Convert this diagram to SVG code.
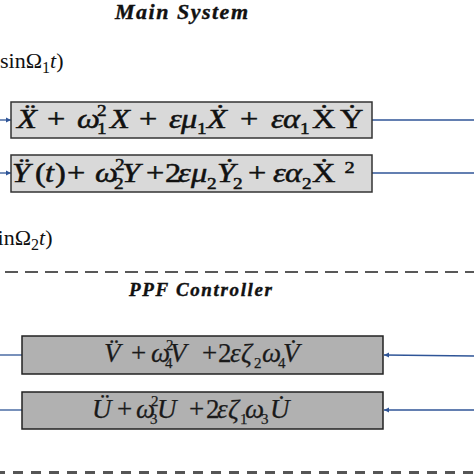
<svg xmlns="http://www.w3.org/2000/svg" width="474" height="474" viewBox="0 0 474 474">
<style>
.bg{fill:#ffffff}
.b1{fill:#d9d9d9;stroke:#333333;stroke-width:1.5}
.b2{fill:#b1b1b1;stroke:#222222;stroke-width:1.5}
.ln{stroke:#2f5597;stroke-width:1.3;fill:none}
.m{font-family:"Liberation Serif",serif;font-style:italic;font-size:27px;fill:#111111;stroke:#111111;stroke-width:0.5}
.m2{font-family:"Liberation Serif",serif;font-style:italic;font-size:27px;fill:#1a1a1a;stroke:#1a1a1a;stroke-width:0.25}
.u{font-style:normal}
.s{font-size:16px}
.s2{font-size:15px}
.t{font-family:"Liberation Serif",serif;font-size:22px;fill:#111111}
.h{font-family:"Liberation Serif",serif;font-style:italic;font-weight:bold;fill:#111111;stroke:#111111;stroke-width:0.4}
</style>
<defs>
<marker id="ah" markerWidth="6" markerHeight="6" refX="5" refY="3" orient="auto" markerUnits="userSpaceOnUse">
<path d="M0,0.5 L5,3 L0,5.5 Z" fill="#2f5597"/>
</marker>
</defs>
<rect class="bg" x="0" y="0" width="474" height="474"/>
<g id="titles">
<text class="h" x="115" y="19" font-size="22" textLength="133" lengthAdjust="spacing">Main System</text>
<text class="h" x="129" y="296" font-size="19" textLength="143" lengthAdjust="spacing">PPF Controller</text>
</g>
<g id="input1">
<text class="t" x="0" y="68">sinΩ<tspan class="s" dy="5">1</tspan><tspan font-style="italic" dy="-5">t</tspan>)</text>
</g>
<g id="input2">
<text class="t" x="-11" y="245">sinΩ<tspan class="s" dy="5">2</tspan><tspan font-style="italic" dy="-5">t</tspan>)</text>
</g>
<g id="separators">
<line x1="5" y1="272" x2="474" y2="272" stroke="#222222" stroke-width="1.6" stroke-dasharray="13 7"/>
<line x1="-5" y1="472.5" x2="474" y2="472.5" stroke="#555555" stroke-width="3" stroke-dasharray="10 8"/>
</g>
<g id="connectors">
<line class="ln" x1="0" y1="120" x2="11" y2="120" marker-end="url(#ah)"/>
<line class="ln" x1="0" y1="173" x2="11" y2="173" marker-end="url(#ah)"/>
<line class="ln" x1="372" y1="120" x2="474" y2="120"/>
<line class="ln" x1="372" y1="173" x2="474" y2="173"/>
<line class="ln" x1="0" y1="355" x2="22" y2="355"/>
<line class="ln" x1="0" y1="410" x2="22" y2="410"/>
<line class="ln" x1="474" y1="356" x2="384" y2="355" marker-end="url(#ah)"/>
<line class="ln" x1="474" y1="410" x2="384" y2="410" marker-end="url(#ah)"/>
</g>
<g id="eq1">
<rect class="b1" x="11" y="102" width="361" height="36"/>
<g transform="scale(1.2,1)">
<text class="m" x="14.2" y="128">X&#x308;</text>
<text class="m u" x="39.2" y="128">+</text>
<text class="m" x="64.2" y="128">ω</text>
<text class="m u s" x="80.8" y="116">2</text>
<text class="m u s" x="80.8" y="134">1</text>
<text class="m" x="91.7" y="128">X</text>
<text class="m u" x="115.8" y="128">+</text>
<text class="m" x="140.8" y="128">ε</text>
<text class="m" x="150.8" y="128">μ</text>
<text class="m u s" x="164.2" y="134">1</text>
<text class="m" x="172.5" y="128">X&#x307;</text>
<text class="m u" x="200" y="128">+</text>
<text class="m" x="225.8" y="128">ε</text>
<text class="m" x="235.8" y="128">α</text>
<text class="m u s" x="250" y="134">1</text>
<text class="m u" x="260" y="128">X&#x307;</text>
<text class="m u" x="283.3" y="128">Y&#x307;</text>
</g>
</g>
<g id="eq2">
<rect class="b1" x="11" y="155" width="361" height="37"/>
<g transform="scale(1.2,1)">
<text class="m" x="10" y="182">Y&#x308;</text>
<text class="m u" x="29.2" y="182">(</text>
<text class="m" x="37.5" y="182">t</text>
<text class="m u" x="45.8" y="182">)</text>
<text class="m u" x="55.8" y="182">+</text>
<text class="m" x="79.2" y="182">ω</text>
<text class="m u s" x="95.8" y="170">2</text>
<text class="m u s" x="95" y="189">2</text>
<text class="m" x="101.7" y="182">Y</text>
<text class="m u" x="121.7" y="182">+</text>
<text class="m u" x="137.5" y="182">2</text>
<text class="m" x="148.3" y="182">ε</text>
<text class="m" x="159.2" y="182">μ</text>
<text class="m u s" x="172.5" y="189">2</text>
<text class="m" x="180.8" y="182">Y&#x307;</text>
<text class="m u s" x="194.2" y="189">2</text>
<text class="m u" x="206.7" y="182">+</text>
<text class="m" x="227.5" y="182">ε</text>
<text class="m" x="237.5" y="182">α</text>
<text class="m u s" x="251.7" y="189">2</text>
<text class="m u" x="260" y="182">X&#x307;</text>
<text class="m u" x="287" y="173" style="font-size:17px">2</text>
</g>
</g>
<g id="eq3">
<rect class="b2" x="22" y="336" width="361" height="38"/>
<text class="m2" x="104" y="362">V&#x308;</text>
<text class="m2 u" x="131" y="362">+</text>
<text class="m2" x="151" y="362">ω</text>
<text class="m2 u s2" x="166" y="350">2</text>
<text class="m2 u s2" x="165" y="368">4</text>
<text class="m2" x="170" y="362">V</text>
<text class="m2 u" x="202" y="362">+</text>
<text class="m2 u" x="218" y="362">2</text>
<text class="m2" x="230" y="362">ε</text>
<text class="m2" x="241" y="362">ζ</text>
<text class="m2 u s2" x="254" y="368">2</text>
<text class="m2" x="262" y="362">ω</text>
<text class="m2 u s2" x="278" y="368">4</text>
<text class="m2" x="283" y="362">V&#x307;</text>
</g>
<g id="eq4">
<rect class="b2" x="22" y="392" width="361" height="37"/>
<text class="m2" x="92" y="418">U&#x308;</text>
<text class="m2 u" x="117" y="418">+</text>
<text class="m2" x="136" y="418">ω</text>
<text class="m2 u s2" x="151" y="406">2</text>
<text class="m2 u s2" x="150" y="424">3</text>
<text class="m2" x="157" y="418">U</text>
<text class="m2 u" x="189" y="418">+</text>
<text class="m2 u" x="206" y="418">2</text>
<text class="m2" x="217" y="418">ε</text>
<text class="m2" x="228" y="418">ζ</text>
<text class="m2 u s2" x="240" y="424">1</text>
<text class="m2" x="245" y="418">ω</text>
<text class="m2 u s2" x="261" y="424">3</text>
<text class="m2" x="270" y="418">U&#x307;</text>
</g>
</svg>
